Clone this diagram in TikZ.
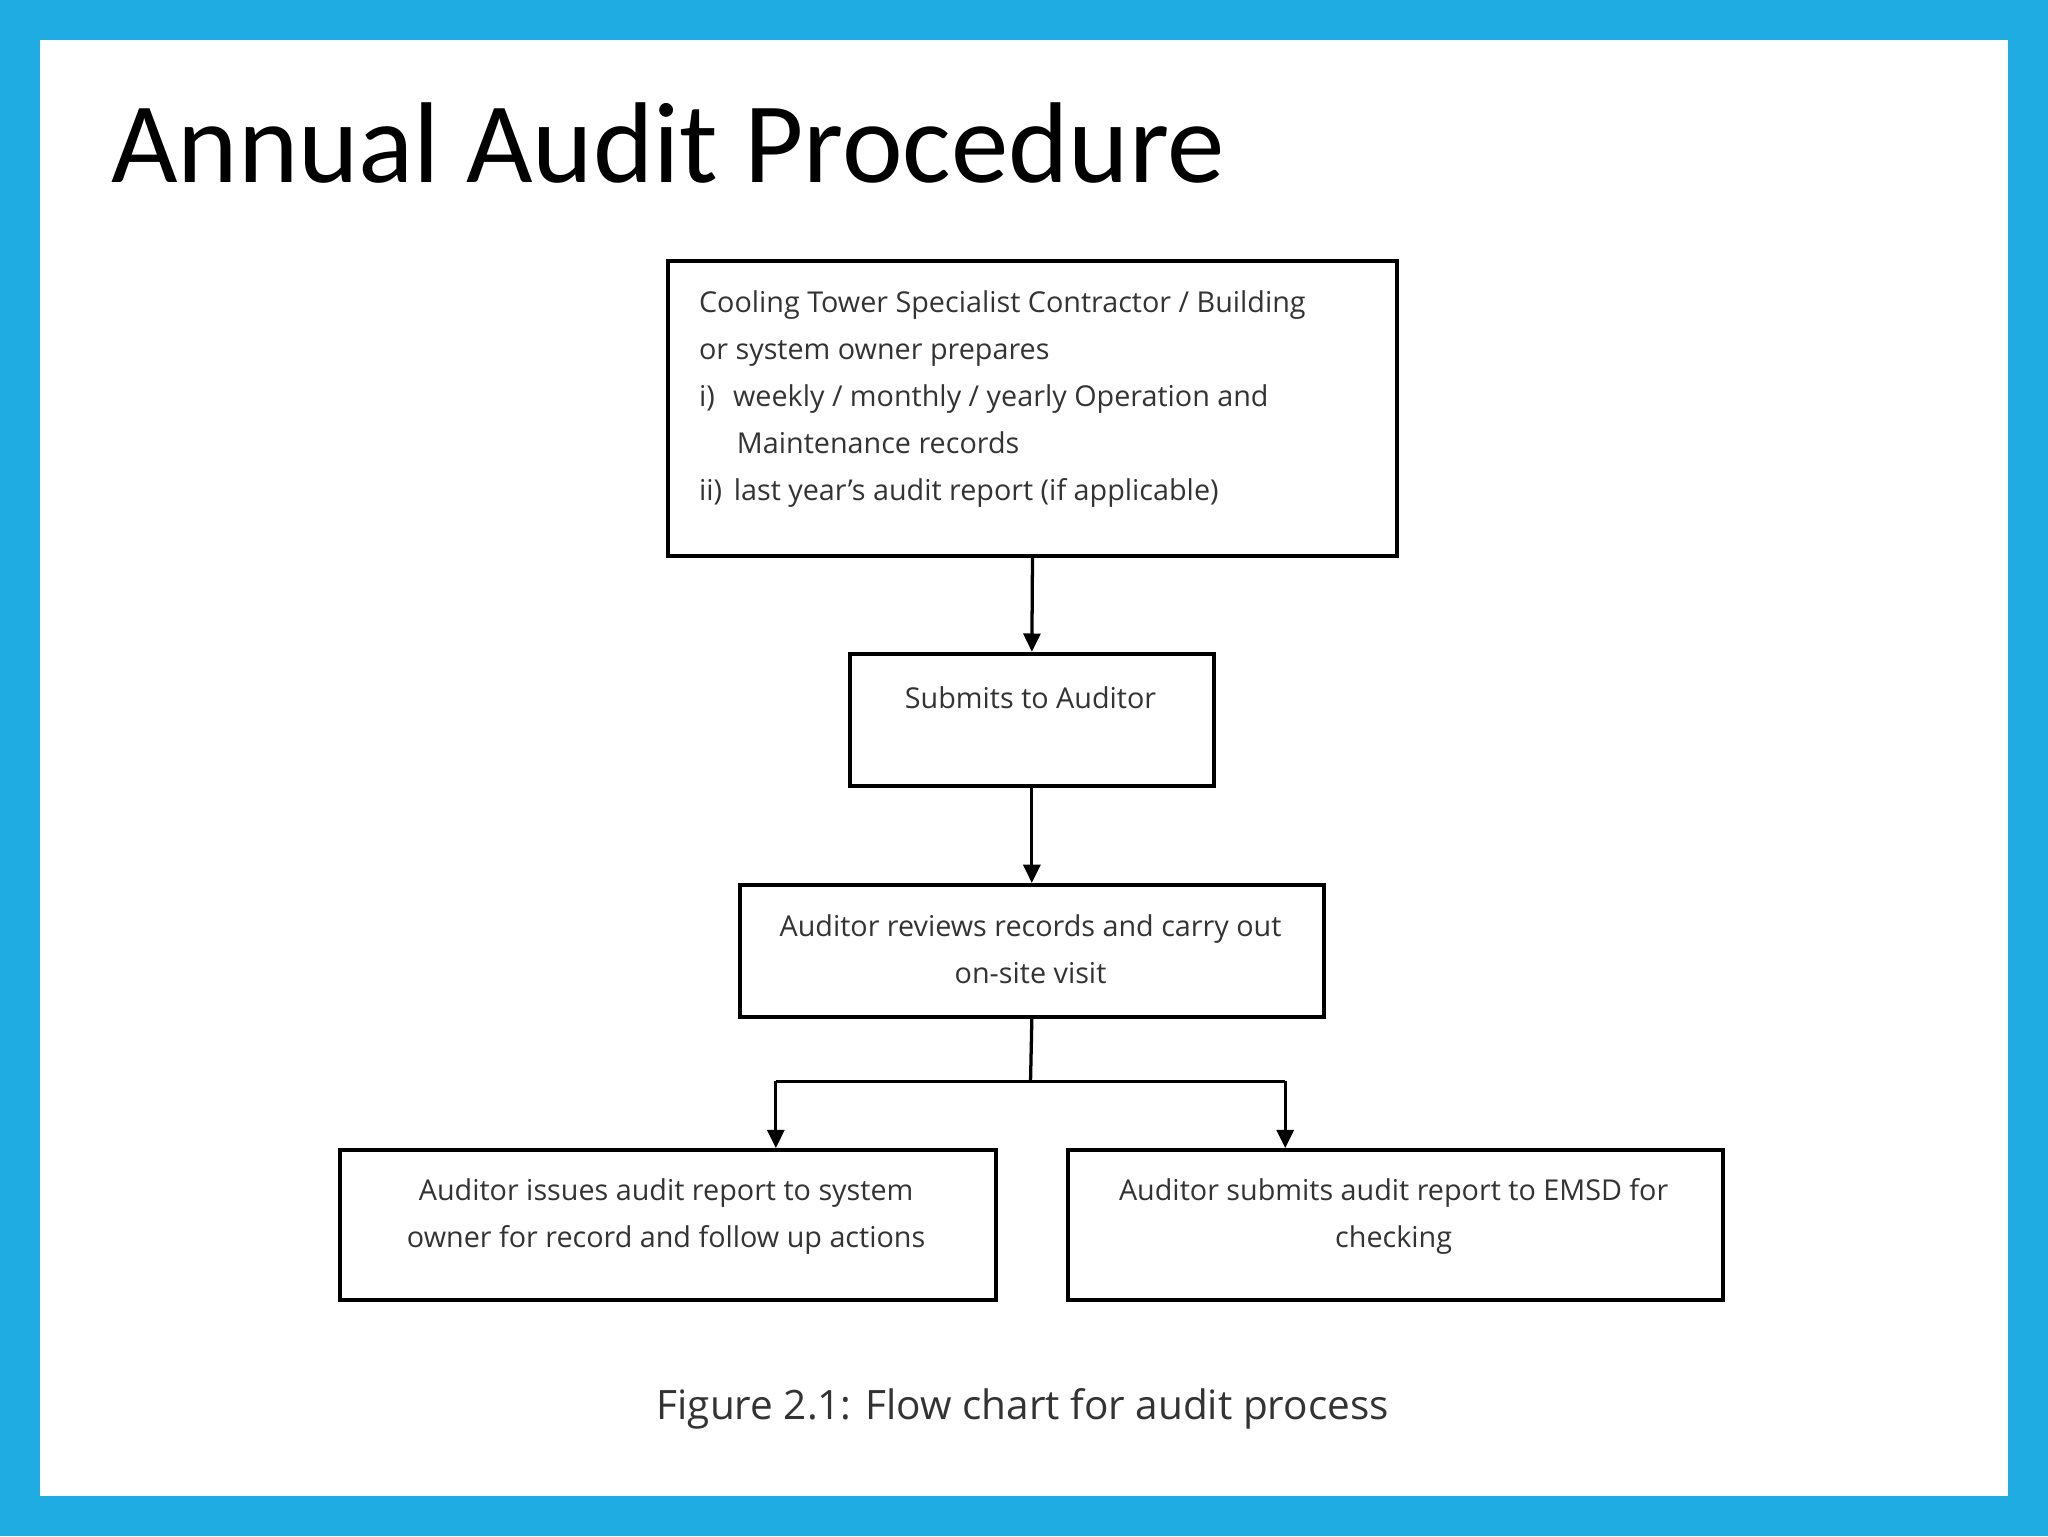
\documentclass[tikz,border=0pt]{standalone}
\usepackage{fontspec}
\setmainfont{Open Sans}
\newfontfamily\titlefont{Carlito}
\usetikzlibrary{arrows.meta}
\definecolor{frame}{HTML}{1EACE3}
\definecolor{txt}{HTML}{333333}
\begin{document}
\begin{tikzpicture}[x=1pt,y=-1pt,
  box/.style={draw=black,line width=3pt,inner sep=0pt,anchor=north west},
  t/.style={text=txt,font=\fontsize{22}{36}\selectfont,inner sep=0pt},
  arr/.style={line width=2.5pt,-{Triangle[length=14pt,width=13pt]}}]
\fill[frame] (0,0) rectangle (1568,1176);
\fill[white] (31,31) rectangle (1537,1145);
\node[anchor=base west,inner sep=0pt,font=\titlefont\fontsize{88}{96}\selectfont] (title) at (85,140) {Annual Audit Procedure};
\node[box,minimum width=558pt,minimum height=226pt] (b1) at (510,198) {};
\node[box,minimum width=279pt,minimum height=101pt] (b2) at (649,499) {};
\node[box,minimum width=447pt,minimum height=101pt] (b3) at (565,676) {};
\node[box,minimum width=502pt,minimum height=115pt] (b4) at (259,879) {};
\node[box,minimum width=502pt,minimum height=115pt] (b5) at (816,879) {};
\node[t,anchor=north west,align=left] (t1) at (535,222) {Cooling Tower Specialist Contractor / Building\\or system owner prepares\\i)\hspace{14pt}weekly / monthly / yearly Operation and\\\hspace{29pt}Maintenance records\\ii)\hspace{9pt}last year's audit report (if applicable)};
\node[t,anchor=center] (t2) at (789,534) {Submits to Auditor};
\node[t,anchor=north,align=center] (t3) at (789,700) {Auditor reviews records and carry out\\on-site visit};
\node[t,anchor=north,align=center] (t4) at (510,902) {Auditor issues audit report to system\\owner for record and follow up actions};
\node[t,anchor=north,align=center] (t5) at (1067,902) {Auditor submits audit report to EMSD for\\checking};
\node[text=txt,font=\fontsize{31}{36}\selectfont,inner sep=0pt,anchor=center] (cap) at (783,1079) {Figure 2.1: Flow chart for audit process};
\coordinate (s) at (789,828);
\coordinate (sl) at (594,828);
\coordinate (sr) at (984,828);
\draw[arr] (b1.south) -- (b2.north);
\draw[arr] (b2.south) -- (b3.north);
\draw[line width=2.5pt] (b3.south) -- (s);
\draw[line width=2.5pt] (sl) -- (sr);
\draw[arr] (sl) -- (sl |- b4.north);
\draw[arr] (sr) -- (sr |- b5.north);
\end{tikzpicture}
\end{document}
